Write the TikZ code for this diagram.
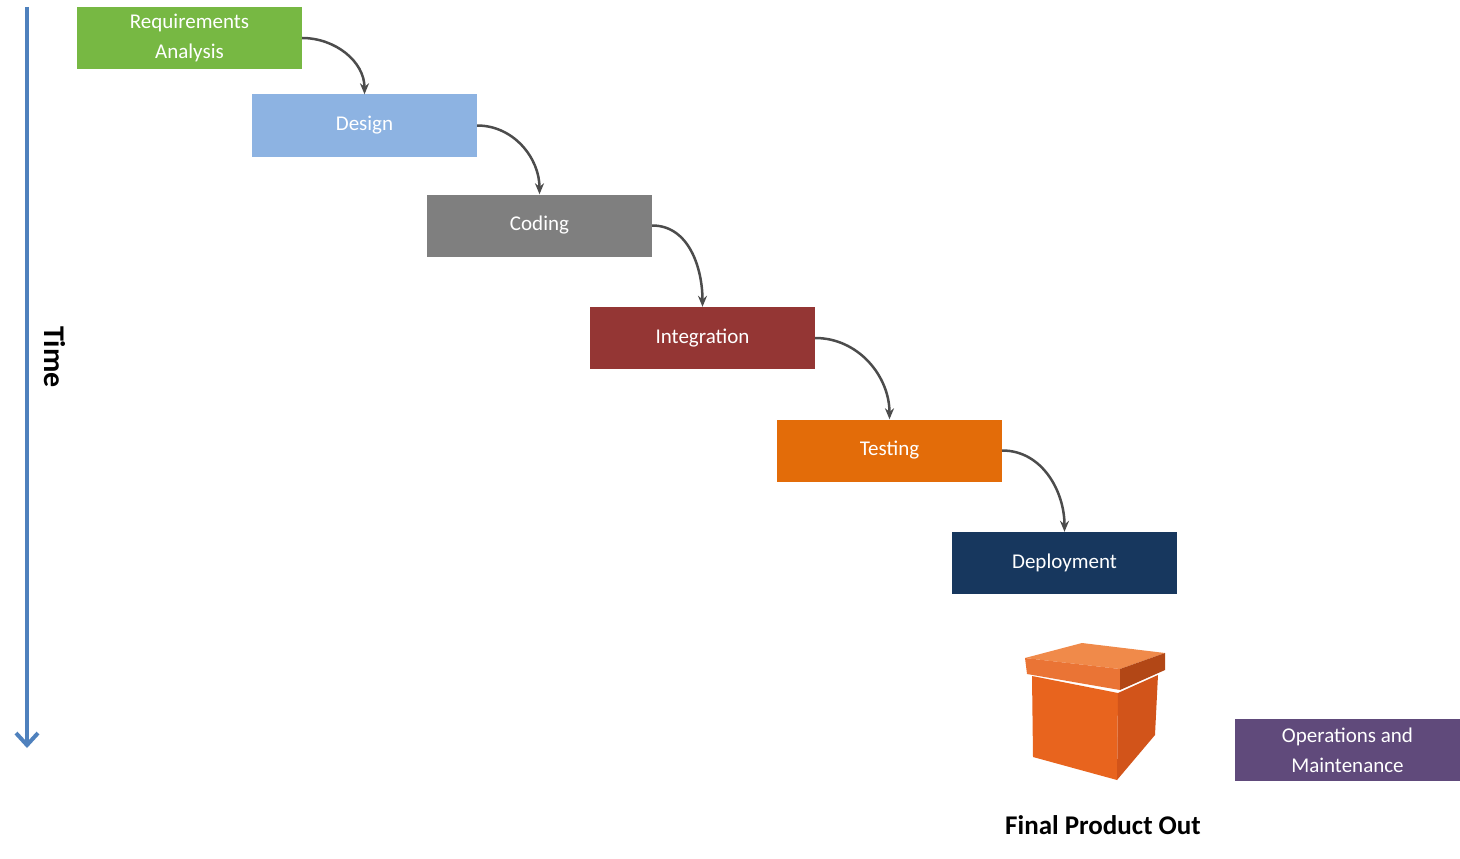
\documentclass[tikz,border=0pt]{standalone}
\usepackage{fontspec}
\setmainfont{Carlito}
\usetikzlibrary{positioning,arrows.meta}
\definecolor{reqgreen}{HTML}{77B843}
\definecolor{desblue}{HTML}{8DB3E2}
\definecolor{codgray}{HTML}{7F7F7F}
\definecolor{intred}{HTML}{943634}
\definecolor{tstorange}{HTML}{E36C09}
\definecolor{depnavy}{HTML}{17375E}
\definecolor{opspurple}{HTML}{604A7B}
\definecolor{timeblue}{HTML}{4F81BD}
\definecolor{boxfront}{HTML}{E8641E}
\definecolor{boxside}{HTML}{D2541A}
\definecolor{boxtop}{HTML}{F08A4A}
\tikzset{
    phase/.style={rectangle, minimum width=225pt, minimum height=62pt, inner sep=0pt,
        text=white, align=center, font=\fontsize{21}{30}\selectfont},
    flow/.style={-{Stealth[length=11pt,width=9pt]}, line width=2.5pt, draw=black!70}
}
\begin{document}
\begin{tikzpicture}[x=1pt, y=-1pt]
\useasboundingbox (0,0) rectangle (1460,859);
\node[phase, fill=reqgreen] (req) at (189.5,38) {Requirements\\Analysis};
\node[phase, fill=desblue] (des) at (364.5,125.5) {Design};
\node[phase, fill=codgray] (cod) at (539.5,225.5) {Coding};
\node[phase, fill=intred] (int) at (702.5,338) {Integration};
\node[phase, fill=tstorange] (tst) at (889.5,450.5) {Testing};
\node[phase, fill=depnavy] (dep) at (1064.5,563) {Deployment};
\node[phase, fill=opspurple] (ops) at (1347.5,750) {Operations and\\Maintenance};
% waterfall connectors
\foreach \a/\b in {req/des, des/cod, cod/int, int/tst, tst/dep}
    \draw[flow] (\a.east) to[out=0, in=90] (\b.north);
% time axis
\coordinate (t0) at (27,7);
\coordinate (t1) at (27,748);
\draw[-{Straight Barb[length=12pt,width=22pt]}, line width=4pt, timeblue] (t0) -- (t1);
\node[rotate=-90, font=\fontsize{30}{36}\selectfont\bfseries] (time) at (55,357) {Time};
% product box
\fill[boxfront] (1032,676) -- (1118,693) -- (1117,780) -- (1033,757) -- cycle;
\fill[boxside] (1118,693) -- (1158,675) -- (1155,735) -- (1117,780) -- cycle;
\fill[boxtop] (1025,658) -- (1082,643) -- (1165,653) -- (1120,669) -- cycle;
\fill[boxfront!90!white] (1025,658) -- (1120,669) -- (1120,690) -- (1027,674) -- cycle;
\fill[boxside!85!black] (1120,669) -- (1165,653) -- (1165,670) -- (1120,690) -- cycle;
\node[font=\fontsize{27}{32}\selectfont\bfseries] (final) at (1103,825) {Final Product Out};
\end{tikzpicture}
\end{document}
